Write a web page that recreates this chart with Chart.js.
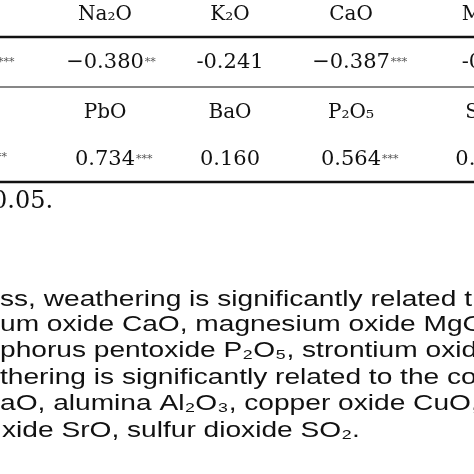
<!DOCTYPE html><html><head><meta charset="utf-8">
<script src="https://cdn.jsdelivr.net/npm/chart.js"></script>
<style>html,body{margin:0;padding:0;background:#fff}#w{width:474px;height:474px}</style></head><body>
<div id="w"><canvas id="c" width="474" height="474"></canvas></div>
<script>
const header1 = ["Na₂O", "K₂O", "CaO", "M"];
const values1 = ["−0.380", "-0.241", "−0.387", "-0"];
const stars1 = ["**", "", "***", ""];
const header2 = ["PbO", "BaO", "P₂O₅", "S"];
const values2 = ["0.734", "0.160", "0.564", "0.4"];
const stars2 = ["***", "", "***", ""];
const leftStars = ["***", "**"];
const note = "0.05.";
const paragraph = [
 "ss, weathering is significantly related t",
 "um oxide CaO, magnesium oxide MgO",
 "phorus pentoxide P₂O₅, strontium oxide",
 "thering is significantly related to the co",
 "aO, alumina Al₂O₃, copper oxide CuO, l",
 "xide SrO, sulfur dioxide SO₂."
];
const colX = [105, 230, 351, 472];
const tablePlugin = {id:'tbl', afterDraw(ch){
 const c = ch.ctx; c.save(); c.fillStyle='#111'; c.textBaseline='middle';
 const serif='"DejaVu Serif", "Liberation Serif", serif';
 c.font='20px '+serif; c.textAlign='center';
 header1.forEach((t,i)=>c.fillText(t,colX[i],15));
 header2.forEach((t,i)=>c.fillText(t,colX[i],113));
 function vals(arr,st,y){arr.forEach((t,i)=>{c.font='21px '+serif;c.textAlign='center';c.fillStyle='#111';
   const w=c.measureText(t).width; c.fillText(t,colX[i],y);
   if(st[i]){c.font='11px '+serif;c.textAlign='left';c.fillStyle='#555';c.fillText(st[i],colX[i]+w/2+1,y-1);}});}
 vals(values1,stars1,63); vals(values2,stars2,160);
 c.font='11px '+serif;c.textAlign='left';c.fillStyle='#555';
 c.fillText(leftStars[0],-2,62); c.fillText(leftStars[1],-4,157);
 c.strokeStyle='#111'; c.lineWidth=2.4; c.beginPath();c.moveTo(0,37);c.lineTo(474,37);c.stroke();
 c.beginPath();c.moveTo(0,182);c.lineTo(474,182);c.stroke();
 c.lineWidth=1.2;c.beginPath();c.moveTo(0,87);c.lineTo(474,87);c.stroke();
 c.fillStyle='#111';c.font='24px '+serif;c.fillText(note,-8,202);
 c.font='22px "Liberation Sans", Arial, sans-serif';
 const sx = 472 / c.measureText(paragraph[0]).width;
 const ys=[300,325,351,378,404,431];
 paragraph.forEach((t,i)=>{c.save();c.translate(i===5?2:0,ys[i]);c.scale(sx,1);c.fillText(t,0,0);c.restore();});
 c.restore();}};
new Chart(document.getElementById('c'),{type:'scatter',data:{datasets:[{data:[],pointRadius:0}]},
 options:{responsive:false,animation:false,plugins:{legend:{display:false},tooltip:{enabled:false}},
 scales:{x:{display:false},y:{display:false}},layout:{padding:0}},plugins:[tablePlugin]});
</script></body></html>
